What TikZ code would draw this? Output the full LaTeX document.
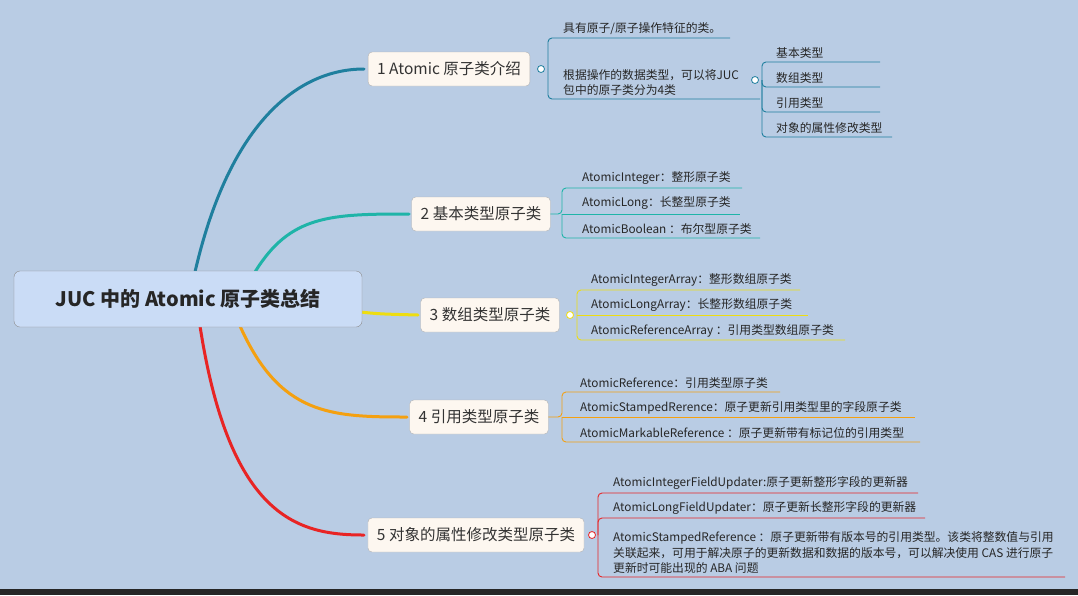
\documentclass[tikz,border=0pt]{standalone}
\usepackage{fontspec}
\setmainfont{Noto Sans CJK SC}
\begin{document}
\begin{tikzpicture}[x=1pt,y=-1pt,
  root/.style={draw=black!45,fill=rootfill,rounded corners=6pt,minimum width=348pt,minimum height=56pt,font=\fontsize{20}{23}\selectfont\bfseries,text=black!85},
  br/.style={draw=black!30,fill=brfill,rounded corners=4pt,minimum height=34pt,inner xsep=9pt,font=\fontsize{15.5}{18}\selectfont,text=black!80},
  leaf/.style={anchor=south west,inner sep=1pt,font=\fontsize{11.8}{15.5}\selectfont,text=black!85,align=left},
  tog/.style={circle,draw=#1,fill=white,inner sep=0pt,minimum size=7pt,line width=0.8pt},
  conn/.style={line width=3pt,line cap=round},
  ll/.style={line width=0.9pt,rounded corners=4pt}]
\definecolor{bg}{HTML}{B9CCE4}
\definecolor{rootfill}{HTML}{CADCF6}
\definecolor{brfill}{HTML}{FDF7F0}
\definecolor{c1}{HTML}{1F7F9E}
\definecolor{c2}{HTML}{1FB4A8}
\definecolor{c3}{HTML}{EEDD10}
\definecolor{c4}{HTML}{F4A010}
\definecolor{c5}{HTML}{E82424}
\fill[bg] (0,0) rectangle (1078,595);
\fill[black!85] (0,589) rectangle (1078,595);
\useasboundingbox (0,0) rectangle (1078,595);

% branches curves
\draw[conn,c1] (195,272) .. controls (230,120) and (300,69) .. (364,69);
\draw[conn,c2] (255,272) .. controls (290,215) and (330,214) .. (409,214);
\draw[conn,c3] (360,312) .. controls (380,314) .. (418,315);
\draw[conn,c4] (240,326) .. controls (280,415) and (330,417) .. (407,417);
\draw[conn,c5] (200,326) .. controls (230,520) and (300,535) .. (364,535);

\node[root] (r) at (188,299) {JUC 中的 Atomic 原子类总结};
\node[br] (b1) at (449,69) {1 Atomic 原子类介绍};
\node[br] (b2) at (481,214) {2 基本类型原子类};
\node[br] (b3) at (490,315) {3 数组类型原子类};
\node[br] (b4) at (479,417) {4 引用类型原子类};
\node[br] (b5) at (476,535) {5 对象的属性修改类型原子类};

% branch 1
\draw[ll,c1] (548,69) -- (548,38) -- (730,38);
\draw[ll,c1] (548,69) -- (548,99) -- (760,99);
\node[tog=c1] (t1) at (541,69) {};
\node[leaf] (l11) at (562,36) {具有原子/原子操作特征的类。};
\node[leaf] (l12) at (562,97) {根据操作的数据类型，可以将JUC\\包中的原子类分为4类};
\draw[ll,c1] (762,80) -- (762,62) -- (880,62);
\draw[ll,c1] (762,80) -- (762,87) -- (880,87);
\draw[ll,c1] (762,80) -- (762,112) -- (880,112);
\draw[ll,c1] (762,80) -- (762,137) -- (892,137);
\node[tog=c1] (t12) at (755,80) {};
\node[leaf] (a1) at (775,60) {基本类型};
\node[leaf] (a2) at (775,85) {数组类型};
\node[leaf] (a3) at (775,110) {引用类型};
\node[leaf] (a4) at (775,135) {对象的属性修改类型};

% branch 2
\draw[ll,c2] (b2.east) -- (562,214) -- (562,188) -- (742,188);
\draw[ll,c2] (562,214) -- (740,214);
\draw[ll,c2] (562,214) -- (562,238) -- (760,238);
\node[leaf] at (581,186) {AtomicInteger：整形原子类};
\node[leaf] at (581,211) {AtomicLong：长整型原子类};
\node[leaf] at (581,236) {AtomicBoolean ：布尔型原子类};

% branch 3
\draw[ll,c3] (577,315) -- (577,290) -- (800,290);
\draw[ll,c3] (577,315) -- (808,315);
\draw[ll,c3] (577,315) -- (577,340) -- (845,340);
\node[tog=c3] at (570,315) {};
\node[leaf] at (590,288) {AtomicIntegerArray：整形数组原子类};
\node[leaf] at (590,313) {AtomicLongArray：长整形数组原子类};
\node[leaf] at (590,338) {AtomicReferenceArray ：引用类型数组原子类};

% branch 4
\draw[ll,c4] (b4.east) -- (562,417) -- (562,392) -- (780,392);
\draw[ll,c4] (562,417) -- (915,417);
\draw[ll,c4] (562,417) -- (562,442) -- (920,442);
\node[leaf] at (579,390) {AtomicReference：引用类型原子类};
\node[leaf] at (579,415) {AtomicStampedRerence：原子更新引用类型里的字段原子类};
\node[leaf] at (579,440) {AtomicMarkableReference ：原子更新带有标记位的引用类型};

% branch 5
\draw[ll,c5] (598,535) -- (598,493) -- (918,493);
\draw[ll,c5] (598,535) -- (598,518) -- (925,518);
\draw[ll,c5] (598,535) -- (598,577) -- (1065,577);
\node[tog=c5] at (592,535) {};
\node[leaf] at (612,491) {AtomicIntegerFieldUpdater:原子更新整形字段的更新器};
\node[leaf] at (612,516) {AtomicLongFieldUpdater：原子更新长整形字段的更新器};
\node[leaf] at (612,575) {AtomicStampedReference ：原子更新带有版本号的引用类型。该类将整数值与引用\\关联起来，可用于解决原子的更新数据和数据的版本号，可以解决使用 CAS 进行原子\\更新时可能出现的 ABA 问题};
\end{tikzpicture}
\end{document}
